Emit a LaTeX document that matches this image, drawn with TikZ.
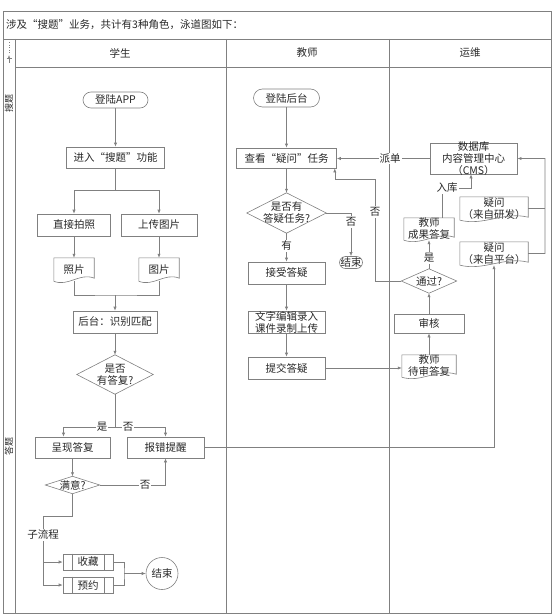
\documentclass[tikz,border=0pt]{standalone}
\usepackage{fontspec}
\setmainfont{Noto Sans CJK SC}
\usetikzlibrary{shapes.geometric,arrows.meta,calc}
\definecolor{linegray}{RGB}{128,128,128}
\definecolor{textgray}{RGB}{40,40,40}
\begin{document}
\begin{tikzpicture}[x=1pt,y=-1pt]
	\tikzstyle{every node} = [font=\fontsize{10.5}{12}\selectfont, text=textgray, inner sep=0pt];
	\tikzstyle{line} = [draw=linegray, line width=0.6pt];
	\tikzstyle{arr} = [line, -{Latex[length=4pt,width=3.2pt]}];
	\tikzstyle{box} = [line, fill=white, rectangle, align=center];
	\tikzstyle{term} = [box, rounded corners=8pt];
	\tikzstyle{doc} = [rectangle, align=center];
	\tikzstyle{decide} = [rectangle, align=center];
	\tikzstyle{lbl} = [fill=white, inner sep=1pt];
	\useasboundingbox (0,0) rectangle (554,615);
	\draw[line] (3,11) rectangle (551,613);
	\draw[line] (3,39) -- (551,39);
	\draw[line] (15,67) -- (551,67);
	\foreach \x in {15,226,389}
		\draw[line] (\x,39) -- (\x,613);
	\draw[line, dotted] (9,42) -- (9,53);
	\draw[arr] (9,63) -- (9,55);
	\draw[line] (6.5,58.5) -- (11.5,58.5);
	\node[anchor=west] (title) at (6,25) {涉及“搜题”业务，共计有3种角色，泳道图如下：};
	\node (stu) at (120,53) {学生};
	\node (tea) at (307,53) {教师};
	\node (ops) at (470,53) {运维};
	\node[rotate=90, font=\fontsize{9}{10}\selectfont] (ph1) at (9,104) {搜题};
	\node[rotate=90, font=\fontsize{9}{10}\selectfont] (ph2) at (9,446) {答题};

	\node[term, minimum width=65, minimum height=16] (app) at (115.5,100) {登陆APP};
	\node[box, minimum width=98, minimum height=21] (enter) at (115.5,157.5) {进入“搜题”功能};
	\node[box, minimum width=73, minimum height=22] (photo) at (74,225) {直接拍照};
	\node[box, minimum width=76, minimum height=22] (upload) at (159,225) {上传图片};
	\node[doc, minimum width=40, minimum height=23] (pic1) at (74,269.5) {照片};
	\node[doc, minimum width=40, minimum height=23] (pic2) at (159,269.5) {图片};
	\node[box, minimum width=84, minimum height=22] (match) at (115,322) {后台：识别匹配};
	\node[decide, minimum width=76, minimum height=39] (hasans) at (115,374.5) {是否\\有答复?};
	\node[box, minimum width=75, minimum height=21] (show) at (72.5,447.5) {呈现答复};
	\node[box, minimum width=77, minimum height=21] (err) at (165.5,447.5) {报错提醒};
	\node[decide, minimum width=54, minimum height=17] (ok) at (72.5,485) {满意?};
	\node[box, minimum width=50, minimum height=16] (fav) at (88,562) {收藏};
	\node[box, minimum width=50, minimum height=16] (book) at (88,585) {预约};
	\node[circle, line, minimum size=32] (end1) at (162,573.5) {结束};

	\node[term, rounded corners=9pt, minimum width=66, minimum height=18] (login) at (286.5,98) {登陆后台};
	\node[box, minimum width=100, minimum height=20] (view) at (286.5,158) {查看“疑问”任务};
	\node[decide, minimum width=79, minimum height=40] (hastask) at (286.5,213) {是否有\\答疑任务?};
	\node[term, rounded corners=6pt, minimum width=23, minimum height=12] (end2) at (351,262.5) {结束};
	\node[box, minimum width=77, minimum height=22] (accept) at (286.5,273) {接受答疑};
	\node[box, minimum width=77, minimum height=22] (edit) at (286.5,322) {文字编辑录入\\课件录制上传};
	\node[box, minimum width=77, minimum height=22] (submit) at (286.5,368) {提交答疑};

	\node[cylinder, line, fill=white, shape aspect=0.35, minimum width=31, minimum height=87] (cms) at (473.5,158.5) {};
	\node[align=center] (cmstext) at (cms.center) {数据库\\内容管理中心\\（CMS）};
	\node[doc, minimum width=50, minimum height=22] (res) at (429,229) {教师\\成果答复};
	\node[doc, minimum width=68, minimum height=23] (qdev) at (494,208.5) {疑问\\（来自研发）};
	\node[doc, minimum width=68, minimum height=23] (qplat) at (494,253.5) {疑问\\（来自平台）};
	\node[decide, minimum width=55, minimum height=24] (pass) at (429,281) {通过?};
	\node[box, minimum width=70, minimum height=19] (audit) at (429,323.5) {审核};
	\node[doc, minimum width=54, minimum height=22] (wait) at (429,366) {教师\\待审答复};

	\foreach \d in {pic1,pic2,res,qdev,qplat,wait}
		\draw[line] (\d.north west) -- (\d.north east) -- ([yshift=3pt]\d.south east) .. controls ($(\d.south east)!0.35!(\d.south west)+(0,9pt)$) and ($(\d.south east)!0.65!(\d.south west)+(0,-6pt)$) .. (\d.south west) -- cycle;
	\foreach \d in {hasans,ok,hastask,pass}
		\draw[line] (\d.north) -- (\d.east) -- (\d.south) -- (\d.west) -- cycle;
	\foreach \s in {fav,book} {
		\draw[line] ([xshift=10pt]\s.north west) -- ([xshift=10pt]\s.south west);
		\draw[line] ([xshift=-9pt]\s.north east) -- ([xshift=-9pt]\s.south east);
	}

	\draw[arr] (app) -- (enter);
	\draw[arr] (enter.south) -- ++(0,22) -| (photo.north);
	\draw[arr] (enter.south) -- ++(0,22) -| (upload.north);
	\draw[arr] (photo) -- (pic1);
	\draw[arr] (upload) -- (pic2);
	\coordinate (join1) at (115,295);
	\draw[line] (pic1.south) |- (join1) -| (pic2.south);
	\draw[arr] (join1) -- (match);
	\draw[arr] (match) -- (hasans);
	\coordinate (split1) at (115,427);
	\draw[arr] (hasans.south) -- (split1) -| ([xshift=-9pt]show.north);
	\draw[arr] (split1) -| (err.north);
	\node[lbl] (yes1) at (102,427) {是};
	\node[lbl] (no1) at (128,427) {否};
	\draw[arr] (show) -- (ok);
	\draw[arr] (ok.east) -| (err.south);
	\node[lbl] (no2) at (145,485) {否};
	\coordinate (sub) at (43,516);
	\draw[line] (ok.south) |- (sub);
	\draw[arr] (sub) |- (fav.west);
	\draw[arr] (sub) |- (book.west);
	\node[lbl] (subflow) at (43,535) {子流程};
	\coordinate (join2) at (124,573.5);
	\draw[line] (fav.east) -| (join2) |- (book.east);
	\draw[arr] (join2) -- (end1);
	\draw[arr] (err.east) -| (qplat.south);

	\draw[arr] (login) -- (view);
	\draw[arr] (view) -- (hastask);
	\draw[arr] (hastask.east) -| (end2.north);
	\node[lbl] (no3) at (351,222) {否};
	\draw[arr] (hastask) -- (accept);
	\node[lbl] (has) at (286.5,246) {有};
	\draw[arr] (accept) -- (edit);
	\draw[arr] (edit) -- (submit);
	\draw[arr] (submit.east) -- (submit.east -| wait.west);

	\draw[arr] (cms.west) -- (cms.west -| view.east);
	\node[lbl] (dispatch) at (390,158.5) {派单};
	\coordinate (back) at (375,179);
	\draw[arr] (pass.west) -| (back) -| ([xshift=-2pt]view.south east);
	\node[lbl] (no4) at (375,212) {否};
	\draw[arr] (pass) -- (res);
	\node[lbl] (yes2) at (429,258) {是};
	\coordinate (store) at (471,188);
	\draw[arr] ([xshift=13pt]res.north) |- (store) -- (store |- cms.south);
	\node[lbl] (instore) at (447,188) {入库};
	\coordinate (merge) at (545,158.5);
	\draw[arr] (qplat.east) -| (merge) -- (cms.east);
	\draw[line] (qdev.east) -- (qdev.east -| merge);
	\draw[arr] (wait) -- (audit);
	\draw[arr] (audit) -- (pass);
\end{tikzpicture}
\end{document}
